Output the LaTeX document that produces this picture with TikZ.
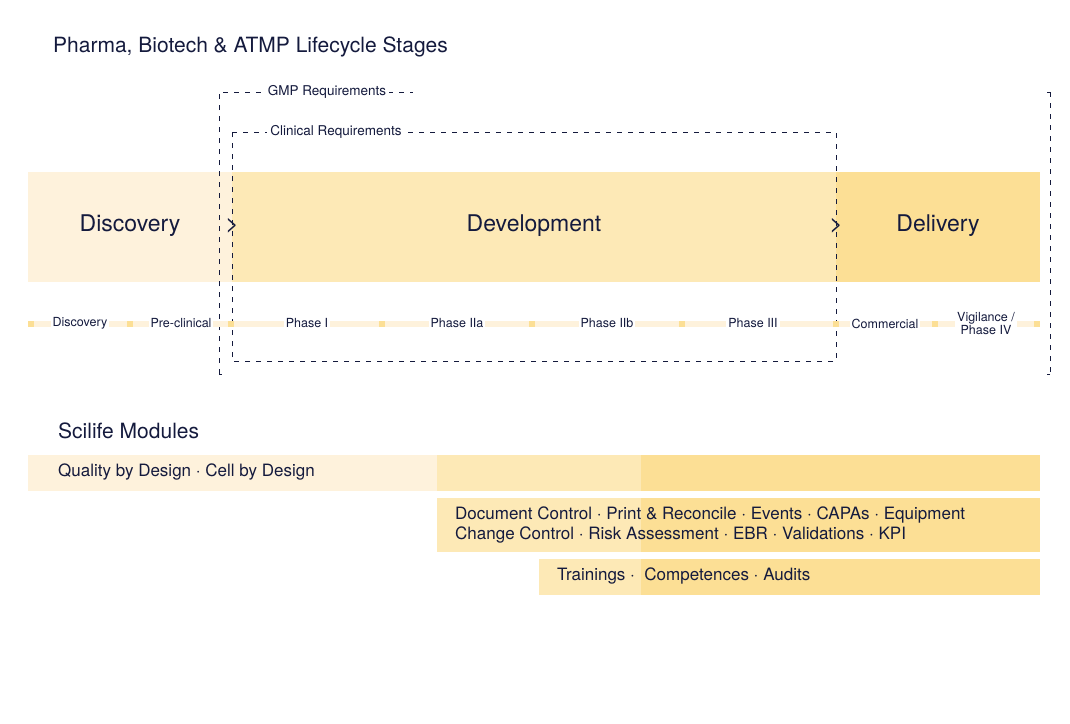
\documentclass[tikz,border=0pt]{standalone}
\usepackage{fontspec}
\setmainfont{TeX Gyre Heros}
\begin{document}
\begin{tikzpicture}[x=1pt,y=-1pt,
  txt/.style={text=ink,inner sep=1pt},
  lab/.style={txt,font=\fontsize{12.5}{13}\selectfont,fill=white,inner sep=2pt,align=center},
  big/.style={txt,font=\fontsize{23}{26}\selectfont},
  mod/.style={txt,font=\fontsize{17}{20}\selectfont,anchor=west,align=left},
  dline/.style={draw=ink,line width=0.8pt,dash pattern=on 5pt off 6pt},
  sq/.style={fill=c3,minimum size=6pt,inner sep=0pt}]
\definecolor{ink}{HTML}{141A3D}
\definecolor{c1}{HTML}{FEF2DC}
\definecolor{c2}{HTML}{FDE9B6}
\definecolor{c3}{HTML}{FCDF95}
\useasboundingbox (0,0) rectangle (1070,723);
\node[txt,font=\fontsize{21}{24}\selectfont,anchor=west] (title) at (52,47) {Pharma, Biotech \& ATMP Lifecycle Stages};
% stage bars
\fill[c1] (28,172) rectangle (232,282);
\fill[c2] (232,172) rectangle (836,282);
\fill[c3] (836,172) rectangle (1040,282);
\node[big] (disc) at (130,226) {Discovery};
\node[big] (dev) at (534,226) {Development};
\node[big] (del) at (938,226) {Delivery};
\node[big] (a1) at (232,226) {>};
\node[big] (a2) at (836,226) {>};
% boxes
\coordinate (g1) at (219,92); \coordinate (g2) at (1050,92);
\coordinate (g3) at (1050,374); \coordinate (g4) at (219,374);
\draw[dline] (g2) -- (g3) (g4) -- (g1) -- (413,92);
\draw[ink,line width=0.8pt] (g3) -- ++(-3,0) (g4) -- ++(3,0) (g2) -- ++(-3,0);
\node[txt,font=\fontsize{13.5}{15}\selectfont,fill=white,inner sep=3pt] (gmp) at (327,92) {GMP Requirements};
\coordinate (k1) at (232,132); \coordinate (k2) at (836,132);
\coordinate (k3) at (836,361); \coordinate (k4) at (232,361);
\draw[dline] (k1) -- (k2) -- (k3) -- (k4) -- cycle;
\node[txt,font=\fontsize{13.5}{15}\selectfont,fill=white,inner sep=3pt] (clin) at (336,132) {Clinical Requirements};
% timeline
\fill[c1] (28,320.5) rectangle (1040,326.5);
\foreach \x in {31,130,231,382,532,682,836,935,1037}{\node[sq] at (\x,323.5) {};}
\node[lab] (t1) at (80,323.5) {Discovery};
\node[lab] (t2) at (181,323.5) {Pre-clinical};
\node[lab] (t3) at (307,323.5) {Phase I};
\node[lab] (t4) at (457,323.5) {Phase IIa};
\node[lab] (t5) at (607,323.5) {Phase IIb};
\node[lab] (t6) at (753,323.5) {Phase III};
\node[lab] (t7) at (885,323.5) {Commercial};
\node[lab,font=\fontsize{12.5}{13.5}\selectfont] (t8) at (986,323.5) {Vigilance /\\Phase IV};
% modules
\node[txt,font=\fontsize{21}{24}\selectfont,anchor=west] (mt) at (57,431) {Scilife Modules};
\fill[c1] (28,455) rectangle (437,491);
\fill[c2] (437,455) rectangle (641,491);
\fill[c3] (641,455) rectangle (1040,491);
\fill[c2] (437,498) rectangle (641,552);
\fill[c3] (641,498) rectangle (1040,552);
\fill[c2] (539,559) rectangle (641,595);
\fill[c3] (641,559) rectangle (1040,595);
\node[mod] (m1) at (57,472) {Quality by Design $\cdot$ Cell by Design};
\node[mod] (m2) at (454,525) {Document Control $\cdot$ Print \& Reconcile $\cdot$ Events $\cdot$ CAPAs $\cdot$ Equipment\\Change Control $\cdot$ Risk Assessment $\cdot$ EBR $\cdot$ Validations $\cdot$ KPI};
\node[mod] (m3) at (556,576) {Trainings $\cdot$ \ Competences $\cdot$ Audits};
\end{tikzpicture}
\end{document}
